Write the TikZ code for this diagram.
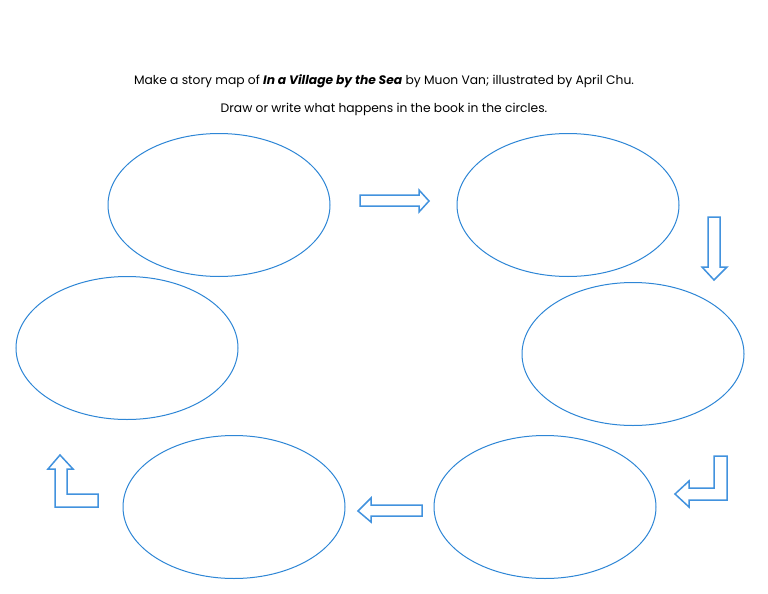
\documentclass[tikz,border=0pt]{standalone}
\usepackage{fontspec}
\setmainfont{Poppins}
\usetikzlibrary{shapes.geometric}
\definecolor{ellblue}{RGB}{46,134,214}
\definecolor{arrblue}{RGB}{66,146,222}
\begin{document}
\begin{tikzpicture}[x=1pt,y=-1pt,
  story/.style={draw=ellblue,line width=1pt,ellipse,minimum width=222pt,minimum height=143pt,inner sep=0pt},
  blockarrow/.style={draw=arrblue,line width=1.5pt,line join=miter},
  caption/.style={font=\fontsize{12.3}{14}\selectfont,inner sep=0pt,anchor=center}]
\useasboundingbox (0,0) rectangle (768,594);
\fill[white] (0,0) rectangle (768,594);
\node[caption] (t1) at (384,81) {Make a story map of \textbf{\textit{In a Village by the Sea}} by Muon Van; illustrated by April Chu.};
\node[caption] (t2) at (384,109) {Draw or write what happens in the book in the circles.};
\node[story] (e1) at (219,205) {};
\node[story] (e2) at (568,205) {};
\node[story] (e3) at (633,354) {};
\node[story] (e4) at (127,348) {};
\node[story] (e5) at (545,507) {};
\node[story] (e6) at (234,507) {};
% right arrow
\draw[blockarrow] (360,195) -- (419,195) -- (419,190) -- (429,201) -- (419,212) -- (419,206) -- (360,206) -- cycle;
% down arrow
\draw[blockarrow] (708,217) -- (720,217) -- (720,267) -- (727,267) -- (714,280) -- (702,267) -- (708,267) -- cycle;
% L arrow bottom right
\draw[blockarrow] (714,456) -- (727,456) -- (727,500) -- (689,500) -- (689,507) -- (675,494) -- (689,481) -- (689,488) -- (714,488) -- cycle;
% left arrow
\draw[blockarrow] (422,505) -- (371,505) -- (371,498) -- (358,511) -- (371,522) -- (371,516) -- (422,516) -- cycle;
% L arrow bottom left
\draw[blockarrow] (98,494) -- (67,494) -- (67,469) -- (73,469) -- (60,455) -- (48,469) -- (55,469) -- (55,507) -- (98,507) -- cycle;
\end{tikzpicture}
\end{document}
